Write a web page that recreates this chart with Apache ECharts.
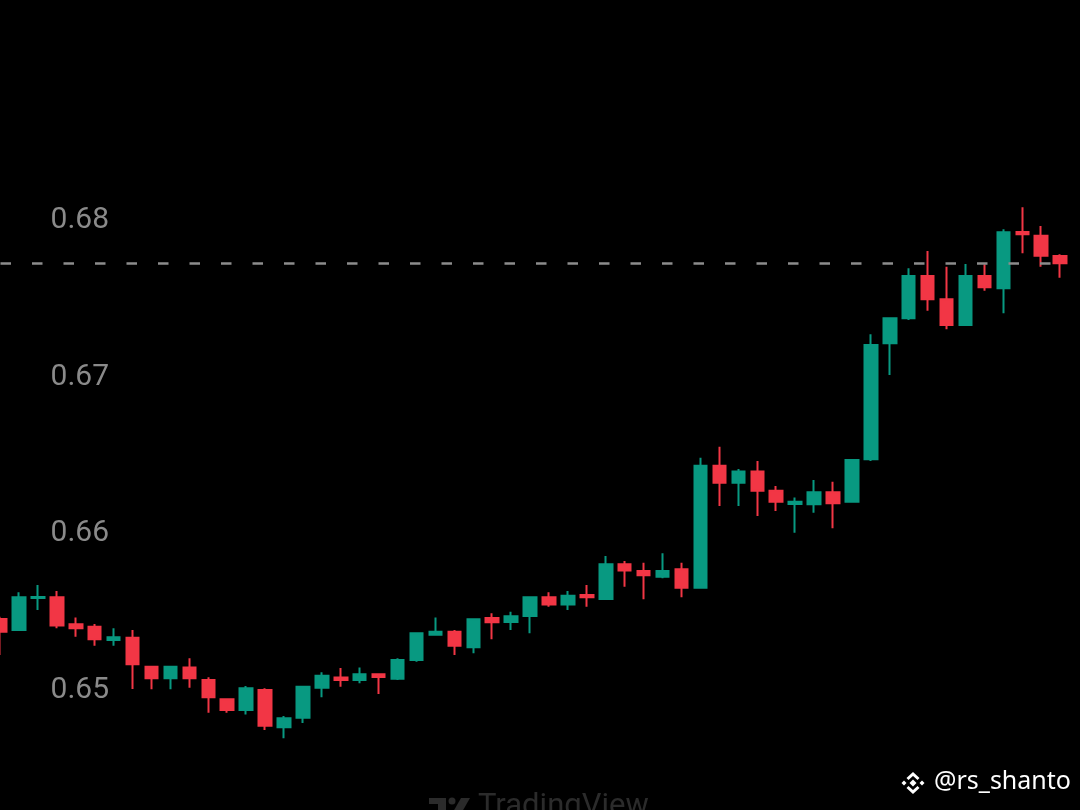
<!DOCTYPE html>
<html>
<head>
<meta charset="utf-8">
<title>Candles</title>
<script src="https://cdn.jsdelivr.net/npm/echarts@6/dist/echarts.min.js"></script>
<style>
  html, body { margin: 0; padding: 0; background: #000; }
  #main { width: 1080px; height: 810px; }
</style>
</head>
<body>
<div id="main"></div>
<script>
// candle values (open / close / low / high)
const opens  = [0.65456, 0.65386, 0.65590, 0.65595, 0.65423, 0.65407, 0.65322, 0.65337, 0.65152, 0.65078,
                0.65146, 0.65067, 0.64944, 0.64876, 0.65003, 0.64765, 0.64826, 0.65018, 0.65082, 0.65067,
                0.65103, 0.65075, 0.65195, 0.65356, 0.65375, 0.65276, 0.65463, 0.65437, 0.65476, 0.65595,
                0.65548, 0.65610, 0.65584, 0.65805, 0.65763, 0.65726, 0.65774, 0.65656, 0.66435, 0.66326,
                0.66397, 0.66275, 0.66190, 0.66189, 0.66265, 0.66205, 0.66476, 0.67216, 0.67376, 0.67646,
                0.67497, 0.67333, 0.67646, 0.67567, 0.67926, 0.67903, 0.67773];
const closes = [0.65375, 0.65595, 0.65597, 0.65414, 0.65397, 0.65327, 0.65340, 0.65167, 0.65078, 0.65152,
                0.65078, 0.64957, 0.64876, 0.65014, 0.64775, 0.64823, 0.65024, 0.65094, 0.65067, 0.65103,
                0.65086, 0.65195, 0.65365, 0.65375, 0.65286, 0.65454, 0.65435, 0.65474, 0.65595, 0.65548,
                0.65605, 0.65595, 0.65805, 0.65765, 0.65735, 0.65763, 0.65656, 0.66435, 0.66326, 0.66397,
                0.66275, 0.66205, 0.66205, 0.66265, 0.66195, 0.66471, 0.67205, 0.67376, 0.67646, 0.67497,
                0.67333, 0.67646, 0.67574, 0.67925, 0.67912, 0.67775, 0.67727];
const lows   = [0.65227, 0.65380, 0.65514, 0.65397, 0.65343, 0.65286, 0.65286, 0.65010, 0.65008, 0.65008,
                0.65018, 0.64858, 0.64858, 0.64846, 0.64748, 0.64695, 0.64793, 0.64957, 0.65024, 0.65046,
                0.64978, 0.65067, 0.65184, 0.65356, 0.65227, 0.65237, 0.65327, 0.65386, 0.65365, 0.65535,
                0.65514, 0.65535, 0.65584, 0.65662, 0.65582, 0.65716, 0.65595, 0.65656, 0.66178, 0.66178,
                0.66114, 0.66146, 0.66007, 0.66135, 0.66035, 0.66205, 0.66465, 0.67014, 0.67365, 0.67424,
                0.67306, 0.67333, 0.67552, 0.67408, 0.67791, 0.67705, 0.67635];
const highs  = [0.65471, 0.65627, 0.65673, 0.65635, 0.65465, 0.65424, 0.65397, 0.65386, 0.65156, 0.65156,
                0.65205, 0.65084, 0.64946, 0.65029, 0.65014, 0.64837, 0.65029, 0.65116, 0.65144, 0.65146,
                0.65105, 0.65205, 0.65367, 0.65465, 0.65386, 0.65456, 0.65493, 0.65503, 0.65597, 0.65627,
                0.65635, 0.65673, 0.65858, 0.65827, 0.65816, 0.65876, 0.65816, 0.66486, 0.66556, 0.66414,
                0.66465, 0.66305, 0.66231, 0.66344, 0.66333, 0.66476, 0.67274, 0.67378, 0.67695, 0.67805,
                0.67704, 0.67722, 0.67720, 0.67944, 0.68084, 0.67965, 0.67784];
const yTicks = [0.65, 0.66, 0.67, 0.68];

const categories = opens.map((_, i) => String(i + 1));
const candles = opens.map((o, i) => [o, closes[i], lows[i], highs[i]]);
const lastClose = closes[closes.length - 1];

const UP = '#089981';
const DOWN = '#f23645';

const chart = echarts.init(document.getElementById('main'));
chart.setOption({
  backgroundColor: '#000000',
  animation: false,
  grid: { left: -9.4, right: 10.4, top: 63.8, bottom: 41.2, outerBoundsMode: 'none', containLabel: false },
  xAxis: {
    type: 'category',
    data: categories,
    boundaryGap: true,
    axisLine: { show: false },
    axisTick: { show: false },
    axisLabel: { show: false },
    splitLine: { show: false }
  },
  yAxis: {
    type: 'value',
    min: 0.645,
    max: 0.69,
    interval: 0.005,
    axisLine: { show: false },
    axisTick: { show: false },
    splitLine: { show: false },
    axisLabel: {
      inside: true,
      margin: 60,
      align: 'left',
      color: '#8a8a8a',
      fontFamily: 'Roboto',
      fontSize: 30,
      formatter: v => yTicks.some(t => Math.abs(t - v) < 1e-9) ? v.toFixed(2) : ''
    }
  },
  series: [{
    type: 'candlestick',
    data: candles,
    barWidth: 13,
    itemStyle: {
      color: UP,
      color0: DOWN,
      borderColor: UP,
      borderColor0: DOWN,
      borderWidth: 2
    },
    markLine: {
      silent: true,
      symbol: 'none',
      precision: 5,
      label: { show: false },
      lineStyle: { color: '#8c8c8c', width: 2.5, type: [10.5, 21], dashOffset: 21.6 },
      data: [{ yAxis: lastClose }]
    }
  }],
  graphic: [
    // faint TradingView mark at the bottom edge
    { type: 'rect', shape: { x: 429, y: 798, width: 17, height: 6 }, style: { fill: '#2b2b2b' }, silent: true },
    { type: 'rect', shape: { x: 438, y: 798, width: 8, height: 14 }, style: { fill: '#2b2b2b' }, silent: true },
    { type: 'circle', shape: { cx: 452, cy: 801, r: 3.5 }, style: { fill: '#2b2b2b' }, silent: true },
    { type: 'polygon', shape: { points: [[461, 798], [470, 798], [462, 812], [453, 812]] }, style: { fill: '#2b2b2b' }, silent: true },
    {
      type: 'text', left: 478, top: 792, silent: true,
      style: { text: 'TradingView', fill: '#2b2b2b', font: '31px Roboto' }
    },
    // Binance-style logo + handle
    { type: 'polygon', shape: { points: [[913, 779.5], [916.5, 783], [913, 786.5], [909.5, 783]] }, style: { fill: '#fff' }, silent: true },
    { type: 'polygon', shape: { points: [[904, 780.5], [906.5, 783], [904, 785.5], [901.5, 783]] }, style: { fill: '#fff' }, silent: true },
    { type: 'polygon', shape: { points: [[922, 780.5], [924.5, 783], [922, 785.5], [919.5, 783]] }, style: { fill: '#fff' }, silent: true },
    { type: 'polyline', shape: { points: [[907.5, 779], [913, 774], [918.5, 779]] }, style: { stroke: '#fff', lineWidth: 3, fill: null }, silent: true },
    { type: 'polyline', shape: { points: [[907.5, 787], [913, 792], [918.5, 787]] }, style: { stroke: '#fff', lineWidth: 3, fill: null }, silent: true },
    {
      type: 'text', left: 934, top: 769, silent: true,
      style: { text: '@rs_shanto', fill: '#ffffff', font: '25px "Noto Sans"' }
    }
  ]
});
</script>
</body>
</html>
